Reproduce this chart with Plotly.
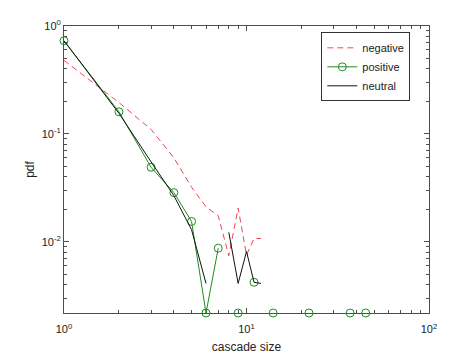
import math
import plotly.graph_objects as go

# ---- data ----
negative_x = [1, 2, 3, 4, 5, 6, 7, 8, 9, 10, 11, 12]
negative_y = [0.48, 0.195, 0.11, 0.06, 0.032, 0.021, 0.0174, 0.0074, 0.0205, 0.0075, 0.0107, 0.0107]

positive_x = [1, 2, 3, 4, 5, 6, 7, 8, 9, 10, 11, 12, 14, 15, 22, 23, 37, 38, 45]
positive_y = [0.73, 0.16, 0.049, 0.0285, 0.0154, 0.00218, 0.0087, None, 0.00218, None,
              0.0042, None, 0.00218, None, 0.00218, None, 0.00218, None, 0.00218]

neutral_x = [1, 2, 3, 4, 5, 6, 7, 8, 9, 10, 11, 12]
neutral_y = [0.73, 0.155, 0.055, 0.0267, 0.0129, 0.0041, None, 0.0122, 0.0041, 0.0081, 0.0042, 0.0041]

x_tickvals = [1, 10, 100]
x_ticktext = ["10<sup>0</sup>", "10<sup>1</sup>", "10<sup>2</sup>"]
y_tickvals = [0.01, 0.1, 1]
y_ticktext = ["10<sup>-2</sup>", "10<sup>-1</sup>", "10<sup>0</sup>"]

x_min, x_max = 1, 100
y_min, y_max = 0.00218, 1

x_minor = [k * 10 ** e for e in range(0, 2) for k in range(2, 10)]
y_minor = [k * 10 ** e for e in range(-3, 0) for k in range(2, 10) if k * 10 ** e > y_min]

FONT = "Liberation Sans, Arial, sans-serif"
AXIS_COLOR = "#4d4d4d"
TEXT_COLOR = "#222222"

fig = go.Figure()
fig.add_trace(go.Scatter(
    x=negative_x, y=negative_y, name="negative", mode="lines",
    line=dict(color="rgb(238,70,85)", width=1, dash="6px,4px"),
))
fig.add_trace(go.Scatter(
    x=positive_x, y=positive_y, name="positive", mode="lines+markers",
    line=dict(color="rgb(30,140,30)", width=1),
    marker=dict(symbol="circle-open", size=8, color="rgb(30,140,30)", line=dict(width=1)),
    cliponaxis=False, connectgaps=False,
))
fig.add_trace(go.Scatter(
    x=neutral_x, y=neutral_y, name="neutral", mode="lines",
    line=dict(color="#111111", width=1), connectgaps=False,
))

axis_common = dict(
    type="log", showgrid=False, zeroline=False,
    showline=True, linecolor=AXIS_COLOR, linewidth=1, mirror="ticks",
    ticks="inside", ticklen=5, tickcolor=AXIS_COLOR, tickwidth=1,
    tickfont=dict(family=FONT, size=11, color=TEXT_COLOR),
    layer="below traces",
)

fig.update_layout(
    width=474, height=362,
    margin=dict(l=64, r=45, t=26, b=49, autoexpand=False),
    paper_bgcolor="white", plot_bgcolor="white",
    font=dict(family=FONT, size=11, color=TEXT_COLOR),
    xaxis=dict(
        **axis_common,
        range=[math.log10(x_min), math.log10(x_max)],
        tickmode="array", tickvals=x_tickvals, ticktext=x_ticktext,
        ticklabelstandoff=6,
        minor=dict(tickmode="array", tickvals=x_minor, ticks="inside", ticklen=3,
                   tickcolor=AXIS_COLOR, tickwidth=1, showgrid=False),
        title=dict(text="cascade size", font=dict(family=FONT, size=12, color=TEXT_COLOR), standoff=8),
    ),
    yaxis=dict(
        **axis_common,
        range=[math.log10(y_min), math.log10(y_max)],
        tickmode="array", tickvals=y_tickvals, ticktext=y_ticktext,
        minor=dict(tickmode="array", tickvals=y_minor, ticks="inside", ticklen=3,
                   tickcolor=AXIS_COLOR, tickwidth=1, showgrid=False),
        title=dict(text="pdf", font=dict(family=FONT, size=12, color=TEXT_COLOR), standoff=4),
    ),
    legend=dict(
        x=0.705, xanchor="left", y=0.978, yanchor="top",
        bgcolor="white", bordercolor="#333333", borderwidth=1,
        font=dict(family=FONT, size=11, color=TEXT_COLOR),
        tracegroupgap=0, itemwidth=30,
    ),
    showlegend=True,
)

fig.write_html(
    "out.html",
    config={"displayModeBar": False},
    post_script="document.body.style.margin='0';document.body.style.overflow='hidden';",
)
